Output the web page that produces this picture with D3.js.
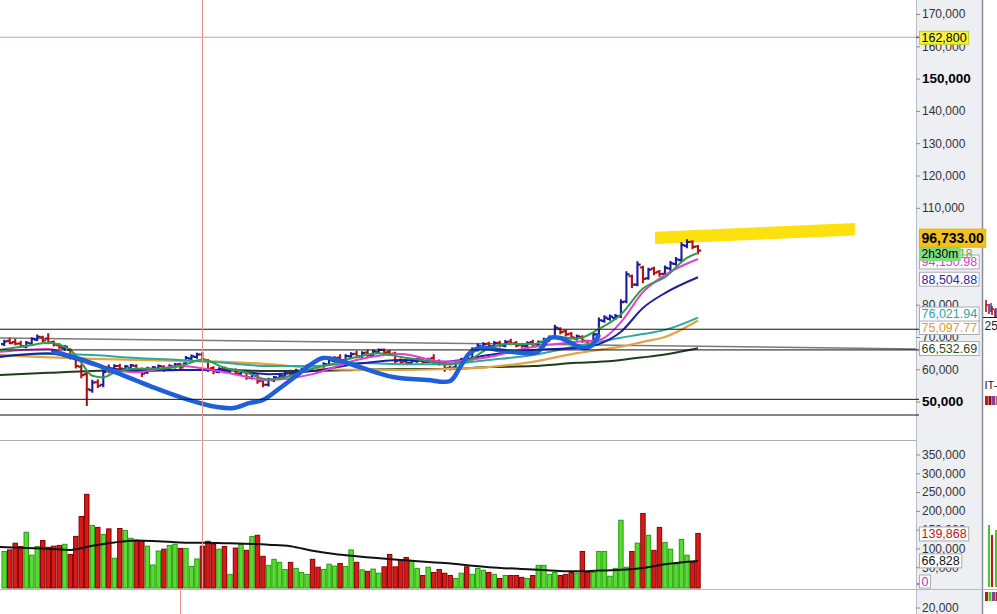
<!DOCTYPE html>
<html><head><meta charset="utf-8">
<script src="https://cdn.jsdelivr.net/npm/d3@7"></script>
<style>html,body{margin:0;padding:0;background:#fff;overflow:hidden}svg{display:block;font-family:"Liberation Sans",Arial,sans-serif}</style>
</head><body><svg id="c" width="997" height="614"></svg>
<script>
// ---------- DATA (prices in thousands, volumes in thousands) ----------
const opens = [67.8,68.8,68.4,68.0,67.0,68.0,69.2,69.9,69.5,68.4,
67.5,66.5,66.0,63.5,60.8,58.5,53.5,56.0,55.2,60.6,
59.3,61.0,60.0,60.3,61.0,60.0,59.0,60.0,60.2,60.8,
59.8,60.8,61.6,61.8,63.3,63.8,64.6,62.8,60.4,59.2,
60.4,59.2,59.8,58.6,59.0,57.4,58.0,56.5,55.2,56.6,
57.2,57.8,59.3,58.4,59.4,60.1,61.3,60.7,60.0,61.5,
62.6,63.6,62.9,64.0,64.8,64.0,65.2,64.4,65.3,66.0,
65.4,64.9,62.8,62.5,61.9,62.5,63.0,62.3,63.5,62.5,
61.7,60.5,60.6,62.3,63.4,63.2,66.0,67.0,67.9,67.1,
68.2,67.3,68.6,68.1,67.6,67.1,68.4,67.6,68.4,69.0,
69.8,72.6,71.8,71.0,69.5,70.0,68.6,68.0,70.8,75.0,
75.6,75.9,76.4,81.0,88.8,86.2,91.5,88.2,91.2,90.2,
89.6,91.2,92.6,93.8,98.2,99.5,98.0];
const highs = [69.0,69.6,69.3,68.7,68.6,69.8,70.6,70.2,71.0,68.8,
67.9,67.4,66.4,63.8,61.3,59.0,56.6,56.8,59.7,61.3,
61.4,61.6,61.2,61.5,61.4,60.4,60.6,60.9,61.3,61.1,
61.4,61.8,61.9,64.0,64.4,65.0,65.2,63.0,60.8,60.5,
60.7,60.2,60.2,59.6,59.3,58.6,58.3,56.9,57.2,57.8,
58.4,59.1,59.7,60.0,60.7,61.4,61.6,61.1,62.0,63.2,
63.9,64.5,64.5,65.1,65.6,65.4,65.9,65.9,66.3,66.3,
65.8,65.3,63.2,62.9,63.0,63.4,63.3,63.4,64.5,62.9,
62.0,61.0,62.8,63.4,64.0,66.7,67.8,68.2,68.4,68.6,
68.7,68.9,69.3,68.6,68.0,68.5,69.0,68.8,69.6,70.3,
73.6,72.9,72.2,71.4,70.6,70.4,69.0,71.3,75.9,76.6,
76.8,77.0,81.5,90.2,89.2,93.3,91.9,91.3,91.6,90.6,
92.0,93.4,94.6,99.2,100.1,99.8,98.3];
const lows = [67.4,67.9,67.6,66.9,66.7,67.8,68.9,68.6,67.9,67.2,
66.5,65.9,63.2,60.4,57.4,48.8,52.9,54.4,54.6,58.9,
59.0,59.8,59.7,60.0,59.4,57.8,58.7,59.6,60.0,59.4,
59.6,60.4,60.2,61.5,63.0,63.4,62.5,59.3,58.6,58.9,
58.9,58.9,58.4,58.2,56.9,57.0,55.7,54.6,54.8,56.2,
56.9,57.5,57.9,58.1,59.1,59.8,59.9,59.6,59.7,61.2,
62.2,62.4,62.6,63.6,63.6,63.7,63.9,64.1,65.0,64.8,
64.3,61.6,61.8,61.6,61.6,62.2,61.9,62.0,61.9,61.3,
59.4,59.8,60.3,62.0,62.4,62.9,65.7,66.7,66.8,66.8,
67.0,67.0,67.6,67.0,66.8,66.8,67.3,67.3,68.0,68.7,
69.5,71.0,70.3,69.4,69.1,68.4,67.2,67.6,70.4,74.6,
75.2,75.4,76.0,80.6,85.3,85.9,86.8,87.9,89.3,88.8,
89.2,90.6,92.2,93.4,97.6,97.3,95.8];
const closes = [68.6,68.1,67.9,67.2,68.2,69.4,70.1,68.9,68.3,67.6,
66.8,67.0,63.7,61.0,58.2,53.8,55.9,54.9,59.2,59.4,
61.0,60.2,60.9,61.2,59.9,58.6,60.2,60.6,61.0,59.8,
61.0,61.5,60.6,63.5,64.0,64.6,63.0,60.0,59.4,60.1,
59.3,59.9,58.8,59.3,57.5,58.2,56.3,55.2,56.8,57.5,
58.0,58.8,58.4,59.6,60.3,61.0,60.5,60.1,61.6,62.8,
63.5,62.9,64.1,64.7,64.0,65.0,64.4,65.5,66.0,65.2,
64.7,62.5,62.2,62.0,62.7,63.1,62.3,63.0,62.4,61.8,
60.2,60.3,62.4,63.1,62.9,66.2,67.3,67.8,67.2,68.1,
67.5,68.4,68.0,67.4,67.2,68.1,67.8,68.5,69.2,69.9,
72.9,71.5,70.8,69.9,70.2,68.9,67.8,70.8,75.2,76.0,
76.3,76.5,80.8,89.4,86.2,92.4,88.0,90.8,89.9,89.5,
91.4,92.8,94.0,98.5,99.4,97.9,96.733];
const volumes = [92,96,114,105,143,82,105,121,103,106,
108,111,84,132,185,244,161,156,137,152,
74,153,148,127,122,120,106,56,93,98,
108,111,100,100,52,72,106,119,111,98,
105,31,101,111,95,132,135,79,55,71,
63,44,63,47,36,31,71,50,44,58,
53,60,52,96,63,43,39,45,34,51,
84,51,69,76,66,47,28,50,36,44,
34,28,20,34,51,31,47,42,36,31,
20,28,28,28,23,20,28,55,55,31,
36,28,31,36,34,92,36,36,92,92,
26,47,175,50,92,114,193,135,95,156,
116,98,58,124,82,63,139.868];

// moving-average knots (bar index, value)
const maIdx     = [-1,8,16,24,32,40,48,56,64,72,80,88,96,104,108,112,116,120,126];
const maDkGreen = [58.2,58.9,59.5,59.8,59.8,59.8,59.5,59.5,59.8,60.1,60.1,60.7,61.0,62.0,62.3,62.9,63.7,64.6,66.53269];
const maOrange  = [64.4,63.7,63.2,62.9,62.6,62.3,61.6,60.4,59.8,59.8,60.1,60.7,62.3,65.0,66.0,67.0,68.5,70.0,75.09777];
const maTeal    = [64.1,64.7,64.4,63.5,62.9,62.0,61.0,61.0,62.0,61.6,61.6,62.9,64.4,67.2,68.5,69.8,70.9,72.2,76.02194];
const maNavy    = [63.8,65.0,61.6,59.4,59.8,59.8,58.5,59.5,61.6,62.9,62.3,64.4,66.0,66.6,67.8,71.6,79.0,83.6,88.50488];
const maMagenta = [65.4,66.3,61.3,59.1,61.0,59.1,56.7,58.5,62.9,64.7,62.3,63.8,66.9,68.5,69.1,74.6,83.9,89.2,94.15098];
const emaIdx    = [-1,4,8,12,14,16,18,20,24,28,32,36,40,44,48,52,56,60,64,68,72,76,80,84,88,92,96,100,104,108,112,116,120,124,126];
const emaGreen  = [66.0,67.2,68.2,66.0,62.0,58.0,57.5,59.0,60.2,60.2,61.0,63.0,60.5,59.0,56.8,58.0,60.2,61.8,63.8,65.0,63.8,62.8,61.5,62.5,66.5,67.8,67.8,70.0,69.5,72.5,77.0,85.0,88.5,94.5,96.0];
const volMaIdx  = [-1,4,8,12,16,20,24,28,32,40,48,52,56,60,64,72,80,88,96,104,108,112,116,120,126];
const volMa     = [104,101,99,96,107,116,121,119,116,114,110,106,94,85,79,69,61,50,44,39,41,43,48,58,66.828];

// hand-drawn thick blue curve (bar index, price)
const drawIdx = [8.9,14.3,20.5,26.5,32.5,38.7,41.6,44.6,47.0,50.1,53.2,56.1,57.9,60.4,64.6,70.6,76.8,81.0,82.8,84.6,86.4,91.9,96.8,99.1,101.0,105.1,106.8,107.9];
const drawVal = [65.4,62.9,58.9,54.8,51.1,48.3,48.0,49.6,50.5,54.2,58.2,62.0,63.5,62.9,60.7,57.6,56.7,56.4,60.7,65.1,66.6,65.4,65.4,69.7,69.7,66.6,67.5,70.3];

// drawn levels
const hLevels    = [72.4, 66.0, 50.7, 45.85];
const trendIdx   = [-1, 166];
const trendVal   = [69.7, 66.3];
const bandIdx    = [118.2, 154.5];
const bandTop    = [102.6, 105.3];
const bandBottom = [98.8, 101.4];
const crossIdx = 36, crossPrice = 162.8, crossIdxLow = 32;

// axis ticks (labels hidden under value boxes are not drawn)
const priceTicks = [170,160,150,140,130,120,110,80,70,60,50];
const boldTicks  = [150,50];
const volTicks   = [350,300,250,200,150,100,50];

// ---------- DRAW ----------
const svg = d3.select("#c");
const PR = 916, AXR = 982;
const x  = d3.scaleLinear().domain([0,126]).range([4.2,698]);
const yP = d3.scaleLinear().domain([50,170]).range([401.6,14]);
const yV = d3.scaleLinear().domain([0,350]).range([586,454.5]);
const yB = d3.scaleLinear().domain([0,20]).range([640,607.5]);
const fmt = v => d3.format(",")(Math.round(v*1000));

const defs = svg.append("defs");
defs.append("clipPath").attr("id","cp").append("rect").attr("x",0).attr("y",0).attr("width",PR).attr("height",440);
defs.append("clipPath").attr("id","cv").append("rect").attr("x",0).attr("y",440).attr("width",PR).attr("height",150);

// axis area background
svg.append("rect").attr("x",PR).attr("y",0).attr("width",AXR-PR).attr("height",614).attr("fill","#edeff3");
svg.append("line").attr("x1",PR+0.5).attr("x2",PR+0.5).attr("y1",0).attr("y2",614).attr("stroke","#b8bcc4");
svg.append("line").attr("x1",AXR+0.5).attr("x2",AXR+0.5).attr("y1",0).attr("y2",614).attr("stroke","#8a8e96").attr("stroke-width",1.5);

// panel separators
svg.append("line").attr("x1",0).attr("x2",PR).attr("y1",440.5).attr("y2",440.5).attr("stroke","#b0b0b0");
svg.append("line").attr("x1",0).attr("x2",997).attr("y1",589.5).attr("y2",589.5).attr("stroke","#b8b8b8");

const gP = svg.append("g").attr("clip-path","url(#cp)");
const gV = svg.append("g").attr("clip-path","url(#cv)");

// horizontal levels
hLevels.forEach(v=>{
  svg.append("line").attr("x1",0).attr("x2",PR+3).attr("y1",yP(v)).attr("y2",yP(v)).attr("stroke","#111").attr("stroke-width",1);
});
// trend line
gP.append("line").attr("x1",x(trendIdx[0])).attr("x2",x(trendIdx[1])).attr("y1",yP(trendVal[0])).attr("y2",yP(trendVal[1]))
  .attr("stroke","#7a7a7a").attr("stroke-width",1.5);

// crosshair
const cx = Math.round(x(crossIdx))+0.5;
svg.append("line").attr("x1",cx).attr("x2",cx).attr("y1",0).attr("y2",589).attr("stroke","#e89090");
svg.append("line").attr("x1",0).attr("x2",PR+4).attr("y1",yP(crossPrice)).attr("y2",yP(crossPrice)).attr("stroke","#e89090");
svg.append("line").attr("x1",Math.round(x(crossIdxLow))+0.5).attr("x2",Math.round(x(crossIdxLow))+0.5).attr("y1",590).attr("y2",614).attr("stroke","#e89090");

// yellow band
gP.append("path").attr("d", d3.line()([[x(bandIdx[0]),yP(bandTop[0])],[x(bandIdx[1]),yP(bandTop[1])],[x(bandIdx[1]),yP(bandBottom[1])],[x(bandIdx[0]),yP(bandBottom[0])]])+"Z")
  .attr("fill","#fde10e");

// OHLC bars
const bars = d3.range(closes.length);
const upC = "#1c1c9c", dnC = "#b01212";
gP.append("g").selectAll("path").data(bars).join("path")
  .attr("d", i => {
    const X = x(i);
    return `M${X},${yP(highs[i])-0.5}V${yP(lows[i])+0.5}M${X-3.2},${yP(opens[i])}H${X}M${X},${yP(closes[i])}H${X+3.2}`;
  })
  .attr("stroke", i => closes[i] >= opens[i] ? upC : dnC)
  .attr("stroke-width",2.1).attr("fill","none");

// moving averages
const lineIdx = (idx, vals, s) => d3.line().x((d,k)=>x(idx[k])).y(d=>s(d)).curve(d3.curveMonotoneX)(vals);
const maSpecs = [
  [maIdx, maDkGreen, "#1f3d1c", 2],
  [maIdx, maOrange, "#e2a545", 2.2],
  [maIdx, maTeal, "#2fa89c", 2],
  [maIdx, maNavy, "#1d1da8", 2],
  [maIdx, maMagenta, "#e03fd2", 2],
  [emaIdx, emaGreen, "#2e9e4a", 2]
];
maSpecs.forEach(s=>{
  gP.append("path").attr("d", lineIdx(s[0], s[1], yP)).attr("fill","none").attr("stroke",s[2]).attr("stroke-width",s[3]);
});

// hand-drawn blue curve
gP.append("path").attr("d", d3.line().x((d,k)=>x(drawIdx[k])).y(d=>yP(d)).curve(d3.curveCatmullRom.alpha(0.5))(drawVal))
  .attr("fill","none").attr("stroke","#1f5fd8").attr("stroke-width",4.5).attr("stroke-linecap","round").attr("stroke-linejoin","round");

// volume bars
gV.append("g").selectAll("rect").data(bars).join("rect")
  .attr("x", i => x(i)-2.2).attr("width",4.4)
  .attr("y", i => yV(volumes[i])).attr("height", i => 588 - yV(volumes[i]))
  .attr("fill", i => closes[i] >= opens[i] ? "#55dd30" : "#d81a1a")
  .attr("stroke", i => closes[i] >= opens[i] ? "#2a9a12" : "#860000").attr("stroke-width",1);
gV.append("path").attr("d", lineIdx(volMaIdx, volMa, yV)).attr("fill","none").attr("stroke","#111").attr("stroke-width",2);

// axes
function styleAxis(g, bold){
  g.select(".domain").remove();
  g.selectAll(".tick line").attr("stroke","#8c8c8c");
  g.selectAll(".tick text").attr("fill","#333").attr("font-size",12).attr("font-family","Liberation Sans, Arial, sans-serif");
  if (bold) g.selectAll(".tick text").filter(d=>boldTicks.includes(d)).attr("font-weight","bold").attr("fill","#000").attr("font-size",13.5);
}
const axP = svg.append("g").attr("transform",`translate(${PR},0)`)
  .call(d3.axisRight(yP).tickValues(priceTicks).tickSize(4).tickPadding(2).tickFormat(fmt));
styleAxis(axP,true);
const axV = svg.append("g").attr("transform",`translate(${PR},0)`)
  .call(d3.axisRight(yV).tickValues(volTicks).tickSize(4).tickPadding(2).tickFormat(fmt));
styleAxis(axV,false);
const axB = svg.append("g").attr("transform",`translate(${PR},0)`)
  .call(d3.axisRight(yB).tickValues([20]).tickSize(4).tickPadding(2).tickFormat(fmt));
styleAxis(axB,false);

// value label boxes
function box(yc, text, opt){
  const g = svg.append("g");
  const t = g.append("text").attr("x",921.5).attr("y",yc).attr("dy","0.35em")
    .attr("font-size",opt.size||12.5).attr("font-weight",opt.weight||"normal").attr("fill",opt.color||"#000").text(text);
  const w = t.node().getComputedTextLength();
  const h = opt.h||14;
  g.insert("rect","text").attr("x",919.5).attr("y",yc-h/2).attr("width",opt.w||w+4).attr("height",h)
    .attr("fill",opt.bg||"#fff").attr("stroke",opt.border||"#a9acb2").attr("stroke-width",1);
  return g;
}
svg.append("line").attr("x1",PR).attr("x2",PR+4).attr("y1",yP(crossPrice)).attr("y2",yP(crossPrice)).attr("stroke","#333");
box(yP(crossPrice)+0.5, fmt(crossPrice), {bg:"#f4f442", border:"#c8c820", h:13});
box(yP(66.53269)+0.3, "66,532.69", {color:"#2a4a22"});
box(yP(70)-9.5, "75,097.77", {color:"#e5963a"});
box(yP(76.02194)-3.5, "76,021.94", {color:"#2aa6a6"});
box(yP(88.50488)+2, "88,504.88", {color:"#2a2aa0"});
box(yP(94.15098)+3, "94,150.98", {color:"#d93ad0"});
svg.append("text").attr("x",959).attr("y",yP(96.733)+3.5).attr("dy","0.35em").attr("font-size",12).attr("fill","#55b055").text("18");
box(yP(96.733)+3.5, "2h30m", {bg:"#7fdc7f", border:"#7fdc7f", size:12, h:13});
box(yP(96.733)-12.5, "96,733.00", {bg:"#f2c21a", border:"#e0b010", weight:"bold", size:14, h:18});
box(yV(139.868)+0.5, "139,868", {color:"#c01515"});
box(yV(66.828), "66,828", {color:"#111"});
svg.append("line").attr("x1",PR+1).attr("x2",PR+4).attr("y1",584).attr("y2",584).attr("stroke","#c030c0").attr("stroke-width",1.5);
box(yV(0)-4.5, "0", {color:"#c030c0", h:13});

// right sliver (neighbouring chart)
const sl = svg.append("g");
sl.append("path").attr("d","M986,300V312M986,305H988M989,304V314M992,306V315M992,309H994M995,309V318").attr("stroke","#a01818").attr("stroke-width",1.6).attr("fill","none");
sl.append("path").attr("d","M991,303V312M996,308V318").attr("stroke","#2a2ad0").attr("stroke-width",1.4);
sl.append("line").attr("x1",983).attr("x2",997).attr("y1",317.5).attr("y2",317.5).attr("stroke","#222");
sl.append("text").attr("x",984.5).attr("y",330).attr("font-size",12).attr("fill","#222").text("25");
sl.append("text").attr("x",984.5).attr("y",389).attr("font-size",11).attr("fill","#222").text("IT-");
[["#c01818",985],["#801010",988.5],["#8040a0",992],["#c06060",995.5]].forEach(d=>sl.append("rect").attr("x",d[1]).attr("y",396).attr("width",3).attr("height",9).attr("fill",d[0]));
sl.append("rect").attr("x",988).attr("y",525).attr("width",2).attr("height",62).attr("fill","#44cc22");
sl.append("rect").attr("x",991).attr("y",535).attr("width",2).attr("height",52).attr("fill","#c01818");
sl.append("rect").attr("x",995).attr("y",530).attr("width",2).attr("height",57).attr("fill","#44cc22");
[["#c01818",985],["#44cc22",988.5],["#8040a0",992],["#c01818",995.5]].forEach(d=>sl.append("rect").attr("x",d[1]).attr("y",592).attr("width",3).attr("height",9).attr("fill",d[0]));
</script></body></html>
